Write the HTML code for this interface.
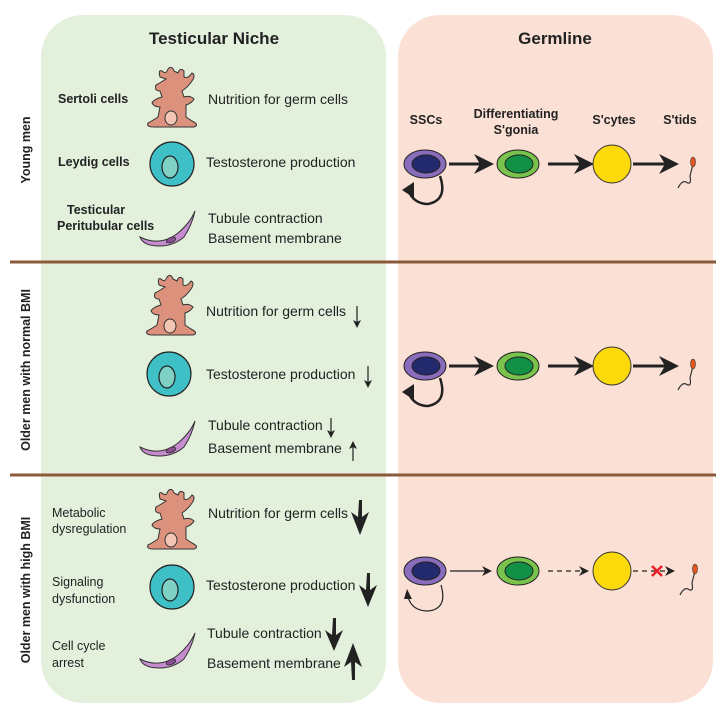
<!DOCTYPE html>
<html><head><meta charset="utf-8"><style>
html,body{margin:0;padding:0;background:#fff}
svg{display:block}
text{font-family:"Liberation Sans",Arial,sans-serif;fill:#222}
.h{font-weight:bold;font-size:17px}
.b{font-weight:bold;font-size:12.5px}
.n{font-size:14px}
.s{font-size:12.5px}
</style></head><body>
<svg width="720" height="716" viewBox="0 0 720 716" xmlns="http://www.w3.org/2000/svg">
<defs>
<g id="sert">
<path d="M10,62 L50,62 Q56,60 48,56 L42,52 L42,40 Q48,38 50,34 Q46,30 40,32 L38,26 Q44,22 48,16 Q52,10 48,8 Q44,14 40,12 L40,6 Q36,2 34,8 L30,6 Q28,0 24,4 Q22,10 18,6 Q14,4 16,12 L22,14 Q16,18 12,20 Q10,26 16,26 L18,32 Q10,34 8,38 Q10,42 16,42 L14,52 Q8,56 4,58 Q2,62 10,62 Z" fill="#dc917c" stroke="#333" stroke-width="1"/>
<ellipse cx="27" cy="53" rx="6" ry="7" fill="#f3c6b4" stroke="#333" stroke-width="1"/>
</g>
<g id="ley">
<circle cx="0" cy="0" r="22" fill="#3fbfc6" stroke="#222" stroke-width="1.2"/>
<ellipse cx="-2" cy="3" rx="8" ry="11" fill="#7fd1c6" stroke="#222" stroke-width="1.2"/>
</g>
<g id="spin">
<path d="M0,26 Q20,36 38,22 Q50,12 55,0 Q52,14 44,26 Q30,38 10,34 Q2,32 0,26Z" fill="#c58dcf" stroke="#333" stroke-width="1"/>
<ellipse cx="31" cy="29" rx="5" ry="2.5" transform="rotate(-20 31 29)" fill="#8a4e92" stroke="#333" stroke-width="0.8"/>
</g>
<g id="ssc"><ellipse rx="21" ry="14" fill="#8a6cbc" stroke="#222"/><ellipse cx="1" rx="14" ry="9" fill="#232a6e" stroke="#222"/></g>
<g id="dif"><ellipse rx="21" ry="14" fill="#79c24c" stroke="#222"/><ellipse cx="1" rx="14" ry="9" fill="#129046" stroke="#222"/></g>
<g id="cyt"><circle r="19" fill="#fcd90b" stroke="#333"/></g>
<g id="tid"><path d="M-10,24 Q-6,16 -2,18 Q4,22 2,12 L5,0" fill="none" stroke="#333" stroke-width="1.2"/><ellipse cx="5" cy="-2" rx="2.5" ry="5" fill="#e2561f" stroke="#333" stroke-width="0.6"/></g>
<marker id="ah" markerWidth="10" markerHeight="10" refX="8" refY="5" orient="auto" markerUnits="userSpaceOnUse"><path d="M0,0 L10,5 L0,10 L3,5Z" fill="#222"/></marker>
<marker id="big" markerWidth="20" markerHeight="20" refX="16" refY="10" orient="auto" markerUnits="userSpaceOnUse"><path d="M0,0 L20,10 L0,20 L6,10Z" fill="#222"/></marker>
<marker id="sm" markerWidth="8" markerHeight="8" refX="6" refY="4" orient="auto" markerUnits="userSpaceOnUse"><path d="M0,0 L8,4 L0,8 L2,4Z" fill="#222"/></marker>
</defs>

<rect x="41" y="15" width="345" height="688" rx="42" fill="#e3f0dc"/>
<rect x="398" y="15" width="315" height="688" rx="42" fill="#fbe1d5"/>
<line x1="10" y1="262" x2="716" y2="262" stroke="#8a5a3a" stroke-width="3"/>
<line x1="10" y1="475" x2="716" y2="475" stroke="#8a5a3a" stroke-width="3"/>

<text class="h" x="214" y="44" text-anchor="middle">Testicular Niche</text>
<text class="h" x="555" y="44" text-anchor="middle">Germline</text>

<text class="b" transform="translate(30,150) rotate(-90)" text-anchor="middle">Young men</text>
<text class="b" transform="translate(30,370) rotate(-90)" text-anchor="middle">Older men with normal BMI</text>
<text class="b" transform="translate(30,590) rotate(-90)" text-anchor="middle">Older men with high BMI</text>

<text class="b" x="58" y="103">Sertoli cells</text>
<text class="b" x="58" y="166">Leydig cells</text>
<text class="b" x="67" y="214">Testicular</text>
<text class="b" x="57" y="230">Peritubular cells</text>
<use href="#sert" x="144" y="65"/>
<use href="#ley" x="172" y="164"/>
<use href="#spin" x="140" y="211"/>
<text class="n" x="208" y="104">Nutrition for germ cells</text>
<text class="n" x="206" y="167">Testosterone production</text>
<text class="n" x="208" y="223">Tubule contraction</text>
<text class="n" x="208" y="243">Basement membrane</text>

<text class="b" x="426" y="124" text-anchor="middle">SSCs</text>
<text class="b" x="516" y="118" text-anchor="middle">Differentiating</text>
<text class="b" x="516" y="134" text-anchor="middle">S'gonia</text>
<text class="b" x="614" y="124" text-anchor="middle">S'cytes</text>
<text class="b" x="680" y="124" text-anchor="middle">S'tids</text>

<use href="#sert" x="143" y="273"/>
<use href="#ley" x="169" y="374"/>
<use href="#spin" x="140" y="421"/>
<text class="n" x="206" y="316">Nutrition for germ cells</text>
<text class="n" x="206" y="379">Testosterone production</text>
<text class="n" x="208" y="430">Tubule contraction</text>
<text class="n" x="208" y="453">Basement membrane</text>
<line x1="357" y1="306" x2="357" y2="326" stroke="#222" stroke-width="1.2" marker-end="url(#sm)"/>
<line x1="368" y1="366" x2="368" y2="386" stroke="#222" stroke-width="1.2" marker-end="url(#sm)"/>
<line x1="331" y1="418" x2="331" y2="436" stroke="#222" stroke-width="1.2" marker-end="url(#sm)"/>
<line x1="353" y1="461" x2="353" y2="443" stroke="#222" stroke-width="1.2" marker-end="url(#sm)"/>

<text class="s" x="52" y="517">Metabolic</text>
<text class="s" x="52" y="533">dysregulation</text>
<text class="s" x="52" y="586">Signaling</text>
<text class="s" x="52" y="603">dysfunction</text>
<text class="s" x="52" y="650">Cell cycle</text>
<text class="s" x="52" y="667">arrest</text>
<use href="#sert" x="144" y="487"/>
<use href="#ley" x="172" y="587"/>
<use href="#spin" x="140" y="633"/>
<text class="n" x="208" y="518">Nutrition for germ cells</text>
<text class="n" x="206" y="590">Testosterone production</text>
<text class="n" x="207" y="638">Tubule contraction</text>
<text class="n" x="207" y="668">Basement membrane</text>
<path d="M359,500 L362,500 L362,517 L369,512 L360,535 L351,512 L358,517Z" fill="#222"/>
<path d="M367,573 L370,573 L370,590 L377,585 L368,607 L359,585 L366,590Z" fill="#222"/>
<path d="M333,618 L336,618 L336,635 L343,630 L334,651 L325,630 L332,635Z" fill="#222"/>
<path d="M352,680 L355,680 L355,662 L362,667 L353,643 L344,667 L351,662Z" fill="#222"/>

<g transform="translate(0,164)">
<use href="#ssc" x="425" y="0"/>
<line x1="449" y1="0" x2="490" y2="0" stroke="#222" stroke-width="3" marker-end="url(#big)"/>
<use href="#dif" x="518" y="0"/>
<line x1="548" y1="0" x2="590" y2="0" stroke="#222" stroke-width="3" marker-end="url(#big)"/>
<use href="#cyt" x="612" y="0"/>
<line x1="633" y1="0" x2="675" y2="0" stroke="#222" stroke-width="3" marker-end="url(#big)"/>
<use href="#tid" x="688" y="0"/>
<path d="M440,12 Q448,36 428,40 Q416,40 410,30" fill="none" stroke="#222" stroke-width="2.5"/>
<path d="M402,26 L414,18 L414,34Z" fill="#222"/>
</g>
<g transform="translate(0,366)">
<use href="#ssc" x="425" y="0"/>
<line x1="449" y1="0" x2="490" y2="0" stroke="#222" stroke-width="3" marker-end="url(#big)"/>
<use href="#dif" x="518" y="0"/>
<line x1="548" y1="0" x2="590" y2="0" stroke="#222" stroke-width="3" marker-end="url(#big)"/>
<use href="#cyt" x="612" y="0"/>
<line x1="633" y1="0" x2="675" y2="0" stroke="#222" stroke-width="3" marker-end="url(#big)"/>
<use href="#tid" x="688" y="0"/>
<path d="M440,12 Q448,36 428,40 Q416,40 410,30" fill="none" stroke="#222" stroke-width="2.5"/>
<path d="M402,26 L414,18 L414,34Z" fill="#222"/>
</g>
<g transform="translate(0,571)">
<use href="#ssc" x="425" y="0"/>
<line x1="450" y1="0" x2="490" y2="0" stroke="#222" stroke-width="1.2" marker-end="url(#ah)"/>
<use href="#dif" x="518" y="0"/>
<line x1="548" y1="0" x2="587" y2="0" stroke="#222" stroke-width="1.2" stroke-dasharray="5,4" marker-end="url(#ah)"/>
<use href="#cyt" x="612" y="0"/>
<line x1="633" y1="0" x2="673" y2="0" stroke="#222" stroke-width="1.2" stroke-dasharray="5,4" marker-end="url(#ah)"/>
<path d="M652,-5 L662,5 M662,-5 L652,5" stroke="#e8202a" stroke-width="2.5"/>
<use href="#tid" x="690" y="0"/>
<path d="M441,14 Q448,38 428,40 Q412,40 408,26" fill="none" stroke="#222" stroke-width="1.2"/>
<path d="M407,18 L412,28 L404,28Z" fill="#222"/>
</g>
</svg>
</body></html>
